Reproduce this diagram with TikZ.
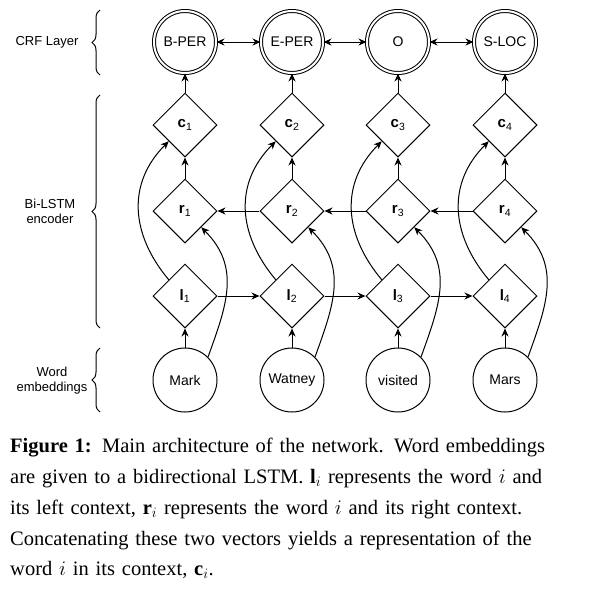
\documentclass[tikz,border=0pt]{standalone}
\usepackage{fontspec}
\setmainfont{Liberation Serif}
\newfontfamily\dsans{Liberation Sans}
\usetikzlibrary{shapes.geometric,decorations.pathreplacing,arrows.meta,calc}
\begin{document}
\begin{tikzpicture}[x=1pt,y=-1pt,
  dia/.style={draw,line width=1pt,diamond,minimum width=64pt,minimum height=64pt,inner sep=0pt,font=\dsans\fontsize{15}{17}\selectfont},
  wrd/.style={draw,line width=1pt,circle,minimum size=64pt,inner sep=0pt,font=\dsans\fontsize{14}{16}\selectfont},
  crf/.style={draw,line width=1pt,circle,double,double distance=2pt,minimum size=62pt,inner sep=0pt,font=\dsans\fontsize{14}{16}\selectfont},
  ar/.style={-{Stealth[length=8pt,width=7pt]},line width=1pt},
  da/.style={{Stealth[length=8pt,width=7pt]}-{Stealth[length=8pt,width=7pt]},line width=1pt},
  br/.style={decorate,decoration={brace,amplitude=8pt},line width=1pt},
  lab/.style={font=\dsans\fontsize{13}{15}\selectfont,align=center}]
\useasboundingbox (0,0) rectangle (600,598);
\foreach \i/\x/\w/\t in {1/185/Mark/B-PER,2/292/Watney/E-PER,3/398/visited/O,4/505/Mars/S-LOC}{
  \node[crf] (y\i) at (\x,42) {\t};
  \node[dia] (c\i) at (\x,125) {\textbf{c}\textsubscript{\i}};
  \node[dia] (r\i) at (\x,211) {\textbf{r}\textsubscript{\i}};
  \node[dia] (l\i) at (\x,296) {\textbf{l}\textsubscript{\i}};
  \node[wrd] (w\i) at (\x,380) {\w};
  \draw[ar] (w\i) -- (l\i);
  \draw[ar] (r\i) -- (c\i);
  \draw[ar] (c\i) -- (y\i);
  \draw[ar] ($(l\i.north)!0.5!(l\i.west)$) to[out=130,in=225,looseness=1.1] ($(c\i.south)!0.5!(c\i.west)$);
  \draw[ar] (w\i.45) to[out=70,in=-45,looseness=1.1] ($(r\i.south)!0.5!(r\i.east)$);
}
\draw[ar] (l1) -- (l2); \draw[ar] (l2) -- (l3); \draw[ar] (l3) -- (l4);
\draw[ar] (r4) -- (r3); \draw[ar] (r3) -- (r2); \draw[ar] (r2) -- (r1);
\draw[da] (y1) -- (y2); \draw[da] (y2) -- (y3); \draw[da] (y3) -- (y4);
\draw[br] (100,75) -- (100,10);
\draw[br] (100,328) -- (100,95);
\draw[br] (100,412) -- (100,348);
\node[lab] (t1) at (47,42) {CRF Layer};
\node[lab] (t2) at (50,211) {Bi-LSTM\\encoder};
\node[lab] (t3) at (52,381) {Word\\embeddings};
\node[anchor=north west,text width=555pt,inner sep=0pt,font=\fontsize{20.5}{30.8}\selectfont] (cap) at (10,438)
{\textbf{Figure 1:} Main architecture of the network. Word embeddings\linebreak
are given to a bidirectional LSTM. $\mathbf{l}_i$ represents the word $i$ and\linebreak
its left context, $\mathbf{r}_i$ represents the word $i$ and its right context.\linebreak
Concatenating these two vectors yields a representation of the\linebreak
word $i$ in its context, $\mathbf{c}_i$.\par};
\end{tikzpicture}
\end{document}
